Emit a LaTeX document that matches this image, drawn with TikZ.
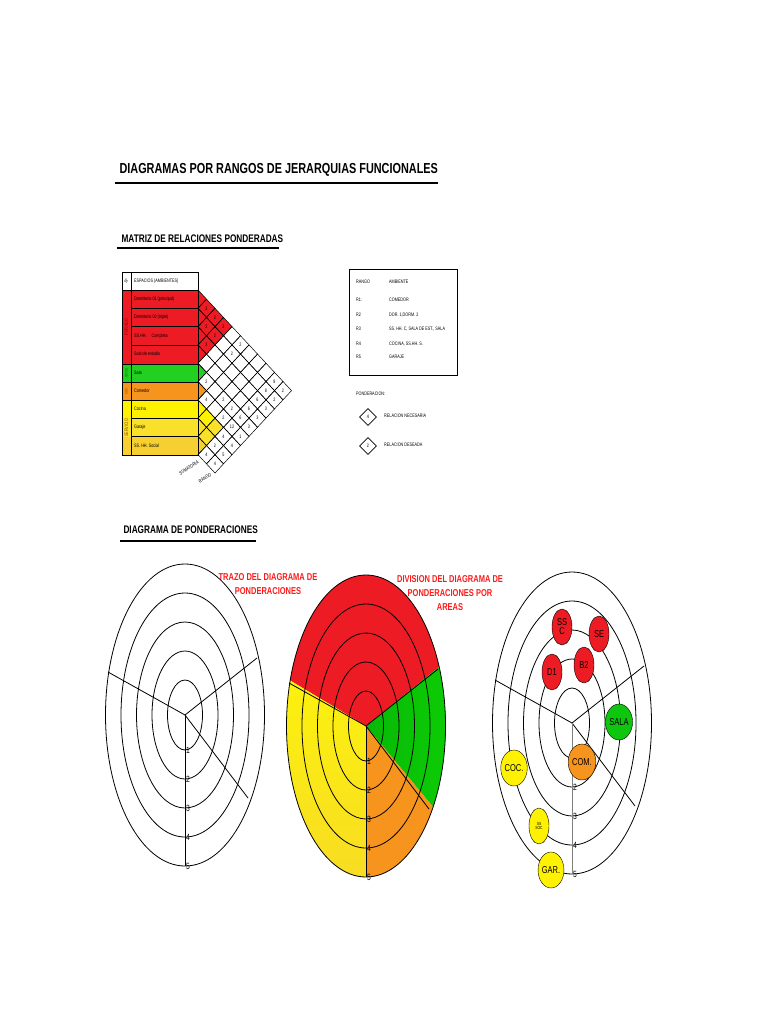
\documentclass[tikz,border=0pt]{standalone}
\usepackage{fontspec}
\setmainfont{Liberation Sans}
\newfontfamily\nar[FakeStretch=0.75]{Liberation Sans}
\usetikzlibrary{shapes.geometric}
\definecolor{cred}{HTML}{ED1C24}
\definecolor{cgreen}{HTML}{22D022}
\definecolor{corange}{HTML}{F7941D}
\definecolor{cyel}{HTML}{FFF200}
\definecolor{cyel2}{HTML}{F9E02A}
\definecolor{cyel3}{HTML}{F5D030}
\definecolor{tred}{HTML}{FF1A1A}
\newcommand\dcoords[2]{\pgfmathsetmacro\cx{198+(#2-#1)*8.5}\pgfmathsetmacro\cy{299.15+9.15*(#1+#2)}}
\newcommand\dpath{(\cx-8.5,\cy) -- (\cx,\cy-9.15) -- (\cx+8.5,\cy) -- (\cx,\cy+9.15) -- cycle}
\begin{document}
\begin{tikzpicture}[x=1pt,y=-1pt,
  ttl/.style={font=\nar\bfseries\fontsize{14.5}{16}\selectfont,anchor=base west},
  sub/.style={font=\nar\bfseries\fontsize{11}{13}\selectfont,anchor=base west},
  redt/.style={font=\nar\bfseries\fontsize{10}{14}\selectfont,text=tred,align=center},
  tiny/.style={font=\nar\fontsize{5}{6}\selectfont,inner sep=0pt},
  cellnum/.style={font=\nar\fontsize{5}{6}\selectfont,inner sep=0pt},
  ring/.style={draw=black,line width=0.8pt},
  spoke/.style={draw=black,line width=0.8pt},
  bub/.style={ellipse,draw=black,line width=0.4pt,minimum width=20,minimum height=36,inner sep=0pt,align=center,font=\nar\fontsize{10}{9}\selectfont},
  ulin/.style={line width=1.3pt}]
\useasboundingbox (0,0) rectangle (768,1024);
% titles
\node[ttl] (t1) at (116,174) {DIAGRAMAS POR RANGOS DE JERARQUIAS FUNCIONALES};
\draw[ulin] (115,183) -- (438,183);
\node[sub] (t2) at (118,242) {MATRIZ DE RELACIONES PONDERADAS};
\draw[ulin] (117,248) -- (279,248);
\node[sub] (t3) at (120,533) {DIAGRAMA DE PONDERACIONES};
\draw[ulin] (120,541) -- (256,541);
% ---------- matrix table
\fill[cred] (122,290) rectangle (198,364);
\fill[cgreen] (122,364) rectangle (198,382);
\fill[corange] (122,382) rectangle (198,400);
\fill[cyel] (122,400) rectangle (198,418.3);
\fill[cyel2] (122,418.3) rectangle (198,436.6);
\fill[cyel3] (122,436.6) rectangle (198,455);
\foreach \i/\c in {0/cred,1/cred,2/cred,3/cred,4/cgreen,5/corange,6/cyel,7/cyel2,8/cyel3}{
  \pgfmathsetmacro\ta{290+18.3*\i}\pgfmathsetmacro\tb{308.3+18.3*\i}\pgfmathsetmacro\tc{299.15+18.3*\i}
  \fill[\c] (198,\ta) -- (206.5,\tc) -- (198,\tb) -- cycle;}
\foreach \i/\j/\c in {0/1/cred,0/2/cred,0/3/cred,1/2/cred,1/3/cred,2/3/cred,6/7/cyel,6/8/cyel2,7/8/cyel2}{
  \dcoords{\i}{\j}\fill[\c] \dpath;}
\foreach \i in {0,...,8}{
  \pgfmathtruncatemacro\jj{\i+1}
  \foreach \j in {\jj,...,10}{\dcoords{\i}{\j}\draw[line width=0.5pt] \dpath;}
  \pgfmathsetmacro\ta{290+18.3*\i}\pgfmathsetmacro\tb{308.3+18.3*\i}\pgfmathsetmacro\tc{299.15+18.3*\i}
  \draw[line width=0.5pt] (198,\ta) -- (206.5,\tc) -- (198,\tb);}
\draw[line width=0.8pt] (122,272) rectangle (198,455);
\draw[line width=0.8pt] (131,272) -- (131,455);
\foreach \y in {290,364,382,400}{\draw[line width=0.8pt] (122,\y) -- (198,\y);}
\foreach \y in {308.3,326.6,344.9,418.3,436.6}{\draw[line width=0.5pt] (131,\y) -- (198,\y);}
\node[tiny,anchor=west] (hdr) at (134,281) {ESPACIOS (AMBIENTES)};
\node[tiny,rotate=60] (nro) at (126.5,281) {N°};
\foreach \i/\t in {0/Dormitorio 01 (principal),1/Dormitorio 02 (triple),2/SS.HH.\quad Completa,3/Sala de estudio,4/Sala,5/Comedor,6/Cocina,7/Garaje,8/SS. HH. Social}{
  \pgfmathsetmacro\tc{299.15+18.3*\i}
  \node[tiny,anchor=west] (r\i) at (134,\tc) {\t};}
\node[tiny,rotate=90,text=red!60!black] (gp) at (126.5,327) {PRIVADO};
\node[font=\nar\fontsize{3.5}{4}\selectfont,inner sep=0pt,rotate=90,text=green!40!black] (gs) at (126.5,373) {SOCIAL};
\node[font=\nar\fontsize{3.5}{4}\selectfont,inner sep=0pt,rotate=90,text=orange!50!black] (go) at (126.5,391) {SOC.};
\node[tiny,rotate=90,text=orange!60!black] (gv) at (126.5,428) {SERVICIO};
\foreach \i/\j/\t in {0/1/2,0/2/2,1/2/2,0/3/2,1/3/2,2/3/2,1/5/2,0/5/2,4/5/2,5/6/4,4/7/2,4/8/2,5/8/2,
  0/9/8,1/9/8,2/9/6,3/9/6,4/9/6,5/9/12,6/9/4,7/9/2,8/9/4,
  0/10/2,1/10/2,2/10/3,3/10/3,4/10/3,5/10/1,6/10/4,7/10/5,8/10/4}{
  \dcoords{\i}{\j}\node[cellnum] at (\cx,\cy) {\t};}
\node[tiny,rotate=32] (sum) at (189,468) {SUMATORIA};
\node[tiny,rotate=32] (ran) at (205,478) {RANGO};
% ---------- legend
\draw[line width=0.8pt] (349,269) rectangle (457,375);
\node[tiny,anchor=west] (lh1) at (356,282) {RANGO};
\node[tiny,anchor=west] (lh2) at (389,282) {AMBIENTE};
\foreach \n/\y/\a/\b in {1/300/R1:/COMEDOR,2/315/R2/{DOR. 1,DORM. 2},3/329/R3/{SS. HH. C, SALA DE EST., SALA},4/344/R4/{COCINA, SS.HH. S.},5/357/R5/GARAJE}{
  \node[tiny,anchor=west] (lr\n) at (356,\y) {\a};
  \node[tiny,anchor=west] (la\n) at (389,\y) {\b};}
\node[tiny,anchor=west] (pond) at (356,394) {PONDERACION:};
\node[diamond,draw,line width=0.6pt,minimum width=17,minimum height=17,inner sep=0pt,font=\nar\fontsize{5}{6}\selectfont] (d4) at (368,417) {4};
\node[diamond,draw,line width=0.6pt,minimum width=17,minimum height=17,inner sep=0pt,font=\nar\fontsize{5}{6}\selectfont] (d2) at (368,446) {2};
\node[tiny,anchor=west] (rn) at (384,416) {RELACION NECESARIA};
\node[tiny,anchor=west] (rd) at (384,445) {RELACION DESEADA};
% ---------- red captions
\node[redt] (c1) at (268,584) {TRAZO DEL DIAGRAMA DE\\PONDERACIONES};
\node[redt] (c2) at (450,593) {DIVISION DEL DIAGRAMA DE\\PONDERACIONES POR\\AREAS};
% ---------- middle coloured diagram
\coordinate (M) at (366,726);
\begin{scope}
\clip (M) ellipse [x radius=79.5, y radius=151];
\fill[cred] (M) -- (66,546) -- (66,500) -- (666,500) -- (366+219,726-177) -- cycle;
\shade[left color=green!70!black!80!cgreen, right color=green!85!lime] (M) -- (366+219,726-177) -- (666,726) -- (366+201,726+243) -- cycle;
\fill[corange] (M) -- (366+201,726+243) -- (366,1000) -- cycle;
\shade[top color=yellow, bottom color=cyel3] (M) -- (366,1000) -- (66,1000) -- (66,546) -- cycle;
\end{scope}
% ---------- three ring diagrams
\foreach \C/\cx/\cy/\vc in {L/185/715/black,M/366/726/black,R/572/723/gray}{
  \coordinate (\C) at (\cx,\cy);
  \coordinate (\C ul) at (\cx-77,\cy-43);
  \coordinate (\C ur) at (\cx+72,\cy-57);
  \coordinate (\C dr) at (\cx+63,\cy+83);
  \coordinate (\C dn) at (\cx,\cy+151);
  \foreach \k in {1,...,5}{
    \pgfmathsetmacro\rx{15.5*\k+2}\pgfmathsetmacro\ry{29*\k+6}
    \draw[ring] (\C) ellipse [x radius=\rx, y radius=\ry];
    \node[font=\nar\fontsize{9}{9}\selectfont,inner sep=0pt] at (\cx+3,\cy+\ry) {\k};}
  \draw[spoke] (\C) -- (\C ul);
  \draw[spoke] (\C) -- (\C ur);
  \draw[spoke] (\C) -- (\C dr);
  \draw[spoke,draw=\vc] (\C) -- (\C dn);
}
% bubbles
\node[bub,fill=cred] (ssc) at (562,627) {SS\\C};
\node[bub,fill=cred] (se) at (599,634) {SE};
\node[bub,fill=cred] (d1) at (552,672) {D1};
\node[bub,fill=cred] (b2) at (584,665) {B2};
\node[bub,fill=green!75!black!60!cgreen] (sala) at (619,722) {SALA};
\node[bub,fill=corange] (com) at (582,762) {COM.};
\node[bub,fill=cyel] (coc) at (514,768) {COC.};
\node[bub,fill=cyel,font=\nar\fontsize{4.5}{4.5}\selectfont] (sss) at (539,826) {SS\\SOC};
\node[bub,fill=cyel] (gar) at (551,870) {GAR.};
\end{tikzpicture}
\end{document}
